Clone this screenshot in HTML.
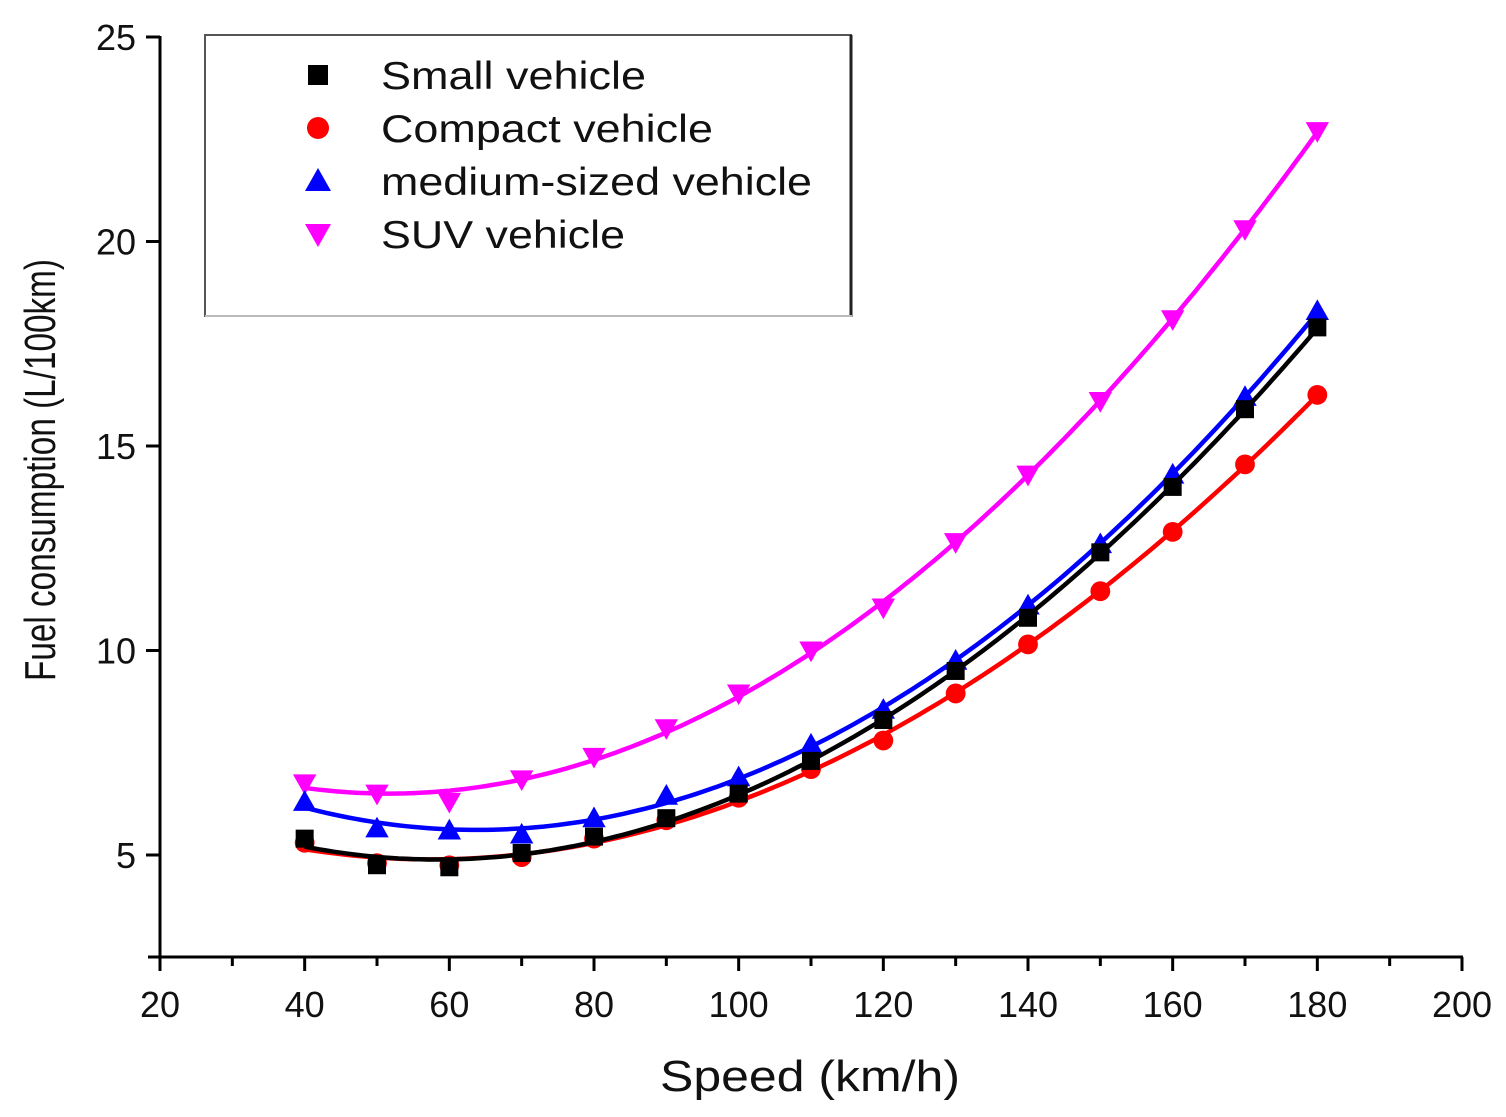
<!DOCTYPE html>
<html><head><meta charset="utf-8"><style>
html,body{margin:0;padding:0;background:#fff;}
svg{display:block;font-family:"Liberation Sans",sans-serif;}
</style></head><body>
<svg id="s" width="1506" height="1117" viewBox="0 0 1506 1117" xmlns="http://www.w3.org/2000/svg">
<rect width="1506" height="1117" fill="#fff"/>
<g id="plot"></g>
<g stroke="#000" stroke-width="3" fill="none">
<line x1="160" y1="36" x2="160" y2="957"/>
<line x1="148" y1="957" x2="1463" y2="957"/>
</g>
<g id="ticks" stroke="#000" stroke-width="3"></g>
<g id="labels" font-size="36" fill="#111"></g>
<text x="810" y="1091" font-size="44" text-anchor="middle" fill="#111" textLength="300" lengthAdjust="spacingAndGlyphs">Speed (km/h)</text>
<text transform="translate(55,470) rotate(-90)" font-size="44" text-anchor="middle" fill="#111" textLength="422" lengthAdjust="spacingAndGlyphs">Fuel consumption (L/100km)</text>
<rect x="205" y="35" width="646" height="281" fill="#fff" stroke="#555" stroke-width="2"/>
<line x1="851" y1="35" x2="851" y2="317" stroke="#222" stroke-width="3"/>
<line x1="205" y1="316" x2="852" y2="316" stroke="#bbb" stroke-width="2"/>
<g font-size="39" fill="#111">
<text x="381" y="89" textLength="265" lengthAdjust="spacingAndGlyphs">Small vehicle</text>
<text x="381" y="142" textLength="332" lengthAdjust="spacingAndGlyphs">Compact vehicle</text>
<text x="381" y="195" textLength="431" lengthAdjust="spacingAndGlyphs">medium-sized vehicle</text>
<text x="381" y="248" textLength="244" lengthAdjust="spacingAndGlyphs">SUV vehicle</text>
</g>
<g id="leg"></g>
</svg>
<script>
var NS="http://www.w3.org/2000/svg";
function X(v){return 160+(v-20)*1302/180;}
function Y(v){return 855-(v-5)*40.9;}
function el(p,t,a){var e=document.createElementNS(NS,t);for(var k in a)e.setAttribute(k,a[k]);p.appendChild(e);return e;}
var tk=document.getElementById('ticks'),lb=document.getElementById('labels');
for(var v=20;v<=200;v+=10){var maj=v%20==0;el(tk,'line',{x1:X(v),x2:X(v),y1:957,y2:957+(maj?14:9)});
if(maj){var t=el(lb,'text',{x:X(v),y:1017,'text-anchor':'middle'});t.textContent=v;}}
for(var v=5;v<=25;v+=5){el(tk,'line',{x1:146,x2:160,y1:Y(v),y2:Y(v)});var t=el(lb,'text',{x:136,y:Y(v)+13,'text-anchor':'end'});t.textContent=v;}
var xs=[40,50,60,70,80,90,100,110,120,130,140,150,160,170,180];
var S=[
{c:'#000',m:'sq',d:[5.4,4.75,4.7,5.05,5.45,5.9,6.5,7.3,8.3,9.5,10.8,12.4,14.0,15.9,17.9]},
{c:'#f00',m:'ci',d:[5.3,4.8,4.75,4.95,5.4,5.85,6.4,7.1,7.8,8.95,10.15,11.45,12.9,14.55,16.25]},
{c:'#00f',m:'up',d:[6.3,5.65,5.6,5.5,5.9,6.45,6.9,7.7,8.55,9.75,11.1,12.6,14.3,16.2,18.3]},
{c:'#f0f',m:'dn',d:[6.75,6.5,6.3,6.85,7.4,8.1,8.95,10.0,11.05,12.65,14.3,16.1,18.1,20.3,22.7]}];
function fit(x,y,n){var m=n+1,A=[],b=[];for(var i=0;i<m;i++){A.push(new Array(m).fill(0));b.push(0);}
for(var k=0;k<x.length;k++){var t=(x[k]-110)/70;for(var i=0;i<m;i++){b[i]+=Math.pow(t,i)*y[k];for(var j=0;j<m;j++)A[i][j]+=Math.pow(t,i+j);}}
for(var i=0;i<m;i++){for(var r=i+1;r<m;r++){var f=A[r][i]/A[i][i];for(var j=i;j<m;j++)A[r][j]-=f*A[i][j];b[r]-=f*b[i];}}
var c=new Array(m);for(var i=m-1;i>=0;i--){var s=b[i];for(var j=i+1;j<m;j++)s-=A[i][j]*c[j];c[i]=s/A[i][i];}
return function(xx){var t=(xx-110)/70,s=0;for(var i=0;i<m;i++)s+=c[i]*Math.pow(t,i);return s;};}
function mk(g,m,x,y,c,r){if(m=='sq')el(g,'rect',{x:x-r,y:y-r,width:2*r,height:2*r,fill:c});
else if(m=='ci')el(g,'circle',{cx:x,cy:y,r:r*1.1,fill:c});
else if(m=='up')el(g,'polygon',{points:(x)+','+(y-r*1.3)+' '+(x-r*1.3)+','+(y+r)+' '+(x+r*1.3)+','+(y+r),fill:c});
else el(g,'polygon',{points:(x)+','+(y+r*1.3)+' '+(x-r*1.3)+','+(y-r)+' '+(x+r*1.3)+','+(y-r),fill:c});}
var pg=document.getElementById('plot'),lg=document.getElementById('leg');
[3,2,1,0].forEach(function(i){var s=S[i];var f=fit(xs,s.d,3);var p='';for(var v=40;v<=180;v+=1)p+=(v==40?'M':'L')+X(v).toFixed(1)+','+Y(f(v)).toFixed(1);
el(pg,'path',{d:p,stroke:s.c,'stroke-width':4.5,fill:'none'});
xs.forEach(function(x,k){mk(pg,s.m,X(x),Y(s.d[k]),s.c,9);});});
S.forEach(function(s,i){mk(lg,s.m,318,75+53*i,s.c,10);});
</script>
</body></html>
